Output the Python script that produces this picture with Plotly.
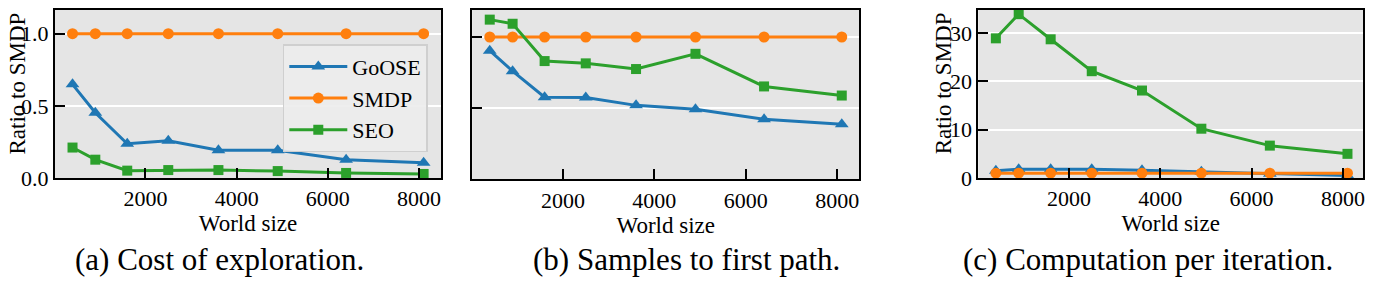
import plotly.graph_objects as go

# ---- data ----
world_size = [400, 900, 1600, 2500, 3600, 4900, 6400, 8100]

cost_goose = [0.649, 0.452, 0.237, 0.258, 0.192, 0.193, 0.127, 0.105]
cost_smdp = [1.0, 1.0, 1.0, 1.0, 1.0, 1.0, 1.0, 1.0]
cost_seo = [0.211, 0.127, 0.051, 0.055, 0.055, 0.048, 0.035, 0.028]

samp_goose = [0.904, 0.760, 0.577, 0.575, 0.520, 0.493, 0.422, 0.387]
samp_smdp = [1.0, 1.0, 1.0, 1.0, 1.0, 1.0, 1.0, 1.0]
samp_seo = [1.122, 1.093, 0.831, 0.815, 0.775, 0.882, 0.653, 0.589]

comp_goose = [1.5, 1.8, 1.8, 1.8, 1.6, 1.3, 0.9, 0.5]
comp_smdp = [1.0, 1.0, 1.0, 1.0, 1.0, 1.0, 1.0, 1.0]
comp_seo = [28.9, 33.9, 28.7, 22.1, 18.1, 10.2, 6.7, 5.0]

series_names = ["GoOSE", "SMDP", "SEO"]
x_ticks = [2000, 4000, 6000, 8000]
captions = ["(a) Cost of exploration.", "(b) Samples to first path.", "(c) Computation per iteration."]
x_title = "World size"
y_title = "Ratio to SMDP"

# ---- style ----
PAGE_W, PAGE_H = 1373, 285
OFF = 8  # default body margin of the html page
W, H = PAGE_W - 2 * OFF, PAGE_H - OFF
FONT = "Liberation Serif"
colors = ["#1f77b4", "#ff7f0e", "#2ca02c"]
symbols = ["triangle-up", "circle", "square"]
msizes = [12, 11, 10]

fig = go.Figure()

panels = [
    (cost_goose, cost_smdp, cost_seo),
    (samp_goose, samp_smdp, samp_seo),
    (comp_goose, comp_smdp, comp_seo),
]

for p, vals in enumerate(panels):
    sfx = "" if p == 0 else str(p + 1)
    for i, v in enumerate(vals):
        fig.add_trace(go.Scatter(
            x=world_size, y=v, name=series_names[i],
            mode="lines+markers",
            line=dict(color=colors[i], width=3),
            marker=dict(symbol=symbols[i], size=msizes[i], color=colors[i]),
            xaxis="x" + sfx, yaxis="y" + sfx,
            showlegend=(p == 0),
            cliponaxis=False,
        ))

def px_x(v):
    return min(1.0, max(0.0, (v - OFF) / W))

def px_y(v):
    return min(1.0, max(0.0, 1 - (v - OFF) / H))

TOP = OFF + 1  # highest pixel row the frame can reach
# (x-left, x-right), x range max, y pixel of value 0, pixels per unit
panel_geo = [
    ((55, 441.5), 8485, 186.0, 152.0),
    ((472.5, 860), 8485, 187.5, 150.0),
    ((979, 1364), 8440, 186.0, 5.09),
]
ytickvals = [[0, 0.5, 1.0], [0, 0.5, 1.0], [0, 10, 20, 30]]
yticktext = [["0.0", "0.5", "1.0"], None, ["0", "10", "20", "30"]]

tickfont = dict(family=FONT, size=22, color="black")

layout = dict(
    width=W, height=H,
    margin=dict(l=0, r=0, t=0, b=0),
    paper_bgcolor="white",
    plot_bgcolor="#e5e5e5",
    font=dict(family=FONT, color="black"),
    showlegend=True,
    legend=dict(
        x=px_x(283), y=px_y(45), xanchor="left", yanchor="top",
        bgcolor="rgba(236,236,236,0.9)", bordercolor="#cfcfcf", borderwidth=1.5,
        font=dict(family=FONT, size=22, color="black"),
        itemwidth=58,
        tracegroupgap=0,
    ),
)

for p in range(3):
    sfx = "" if p == 0 else str(p + 1)
    (x0, x1), xmax, y0px, scale = panel_geo[p]
    ytop = (y0px - TOP) / scale
    layout["xaxis" + sfx] = dict(
        domain=[px_x(x0), px_x(x1)],
        anchor="y" + sfx,
        range=[15, xmax],
        tickvals=x_ticks,
        ticktext=[str(t) for t in x_ticks],
        ticks="inside", ticklen=10, tickwidth=2, tickcolor="black",
        showline=True, linecolor="black", linewidth=2, mirror=True,
        showgrid=False, zeroline=False,
        tickfont=tickfont,
        title=dict(text=x_title, font=dict(family=FONT, size=23, color="black"), standoff=0),
    )
    layout["yaxis" + sfx] = dict(
        domain=[px_y(y0px), px_y(TOP)],
        anchor="x" + sfx,
        range=[0, ytop],
        tickvals=ytickvals[p],
        ticktext=yticktext[p] if yticktext[p] else None,
        showticklabels=yticktext[p] is not None,
        ticks="inside", ticklen=10, tickwidth=2, tickcolor="black",
        showline=True, linecolor="black", linewidth=2, mirror=True,
        showgrid=True, gridcolor="white", gridwidth=2,
        zeroline=False,
        tickfont=tickfont,
    )

annotations = []
# y-axis titles of panels (a) and (c)
for xc in (17.5, 944):
    annotations.append(dict(
        text=y_title, x=px_x(xc), y=px_y(86), textangle=-90,
        xref="paper", yref="paper", xanchor="center", yanchor="middle",
        showarrow=False, font=dict(family=FONT, size=23, color="black"),
        borderpad=0,
    ))

caption_x = [220, 687.5, 1149]
for p in range(3):
    annotations.append(dict(
        text=captions[p], x=px_x(caption_x[p]), y=px_y(272),
        xref="paper", yref="paper", xanchor="center", yanchor="middle",
        showarrow=False, font=dict(family=FONT, size=31, color="black"),
    ))
layout["annotations"] = annotations

fig.update_layout(**layout)
fig.write_html("out.html")
